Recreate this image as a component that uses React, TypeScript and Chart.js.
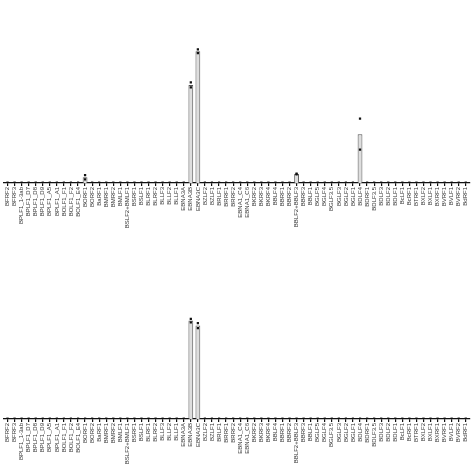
// App.tsx
import { useEffect, useRef } from 'react';
import Chart from 'chart.js/auto';

// Genes along the x axis (same order in both panels)
const genes = [
  'BFRF2', 'BFRF3', 'BPLF1_1-3ab', 'BPLF1_D7', 'BPLF1_D8', 'BPLF1_D9', 'BPLF1_A5', 'BPLF1_A1', 'BOLF1_F1', 'BOLF1_F2', 'BOLF1_E4',
  'BORF1', 'BORF2', 'BaRF1', 'BMRF1', 'BMRF2', 'BMLF1', 'BSLF2+BMLF1', 'BSRF1', 'BSLF1', 'BLRF1', 'BLRF2',
  'BLLF3', 'BLLF2', 'BLLF1', 'EBNA3A', 'EBNA3B', 'EBNA3C', 'BZLF2', 'BZLF1', 'BRLF1', 'BRRF1', 'BRRF2',
  'EBNA1_C4', 'EBNA1_C6', 'BKRF2', 'BKRF3', 'BKRF4', 'BBLF4', 'BBRF1', 'BBRF2', 'BBLF2+BBLF3', 'BBRF3', 'BBLF1',
  'BGLF5', 'BGLF4', 'BGLF3.5', 'BGLF3', 'BGLF2', 'BGLF1', 'BDLF4', 'BDRF1', 'BDLF3.5', 'BDLF3', 'BDLF2',
  'BDLF1', 'BcLF1', 'BcRF1', 'BTRF1', 'BXLF2', 'BXLF1', 'BXRF1', 'BVRF1', 'BVLF1', 'BVRF2', 'BdRF1',
];

// Top panel: mean and the two replicates
const topMean = [
  0, 0, 0, 0, 0, 0, 0, 0, 0, 0, 0,
  1.6, 0, 0, 0, 0, 0, 0, 0, 0, 0, 0,
  0, 0, 0, 0, 27.4, 36.8, 0, 0, 0, 0, 0,
  0, 0, 0, 0, 0, 0, 0, 0, 2.5, 0, 0,
  0, 0, 0, 0, 0, 0, 13.6, 0, 0, 0, 0,
  0, 0, 0, 0, 0, 0, 0, 0, 0, 0, 0,
];
const topRep1 = [
  0, 0, 0, 0, 0, 0, 0, 0, 0, 0, 0,
  2.2, 0, 0, 0, 0, 0, 0, 0, 0, 0, 0,
  0, 0, 0, 0, 28.1, 37.3, 0, 0, 0, 0, 0,
  0, 0, 0, 0, 0, 0, 0, 0, 2.6, 0, 0,
  0, 0, 0, 0, 0, 0, 18.0, 0, 0, 0, 0,
  0, 0, 0, 0, 0, 0, 0, 0, 0, 0, 0,
];
const topRep2 = [
  0, 0, 0, 0, 0, 0, 0, 0, 0, 0, 0,
  1.0, 0, 0, 0, 0, 0, 0, 0, 0, 0, 0,
  0, 0, 0, 0, 26.7, 36.3, 0, 0, 0, 0, 0,
  0, 0, 0, 0, 0, 0, 0, 0, 2.4, 0, 0,
  0, 0, 0, 0, 0, 0, 9.3, 0, 0, 0, 0,
  0, 0, 0, 0, 0, 0, 0, 0, 0, 0, 0,
];

// Bottom panel: mean and the two replicates
const bottomMean = [
  0, 0, 0, 0, 0, 0, 0, 0, 0, 0, 0,
  0, 0, 0, 0, 0, 0, 0, 0, 0, 0, 0,
  0, 0, 0, 0, 27.5, 26.1, 0, 0, 0, 0, 0,
  0, 0, 0, 0, 0, 0, 0, 0, 0, 0, 0,
  0, 0, 0, 0, 0, 0, 0, 0, 0, 0, 0,
  0, 0, 0, 0, 0, 0, 0, 0, 0, 0, 0,
];
const bottomRep1 = [
  0, 0, 0, 0, 0, 0, 0, 0, 0, 0, 0,
  0, 0, 0, 0, 0, 0, 0, 0, 0, 0, 0,
  0, 0, 0, 0, 28.0, 26.8, 0, 0, 0, 0, 0,
  0, 0, 0, 0, 0, 0, 0, 0, 0, 0, 0,
  0, 0, 0, 0, 0, 0, 0, 0, 0, 0, 0,
  0, 0, 0, 0, 0, 0, 0, 0, 0, 0, 0,
];
const bottomRep2 = [
  0, 0, 0, 0, 0, 0, 0, 0, 0, 0, 0,
  0, 0, 0, 0, 0, 0, 0, 0, 0, 0, 0,
  0, 0, 0, 0, 27.0, 25.4, 0, 0, 0, 0, 0,
  0, 0, 0, 0, 0, 0, 0, 0, 0, 0, 0,
  0, 0, 0, 0, 0, 0, 0, 0, 0, 0, 0,
  0, 0, 0, 0, 0, 0, 0, 0, 0, 0, 0,
];

const Y_MAX = 50;

const buildChart = (canvas: HTMLCanvasElement, mean: number[], rep1: number[], rep2: number[]) => {
  // replicate dots, drawn over the bars
  const pointSet = (data: number[]) => ({
    type: 'line' as const,
    data,
    showLine: false,
    pointRadius: 1.6,
    pointStyle: 'rect' as const,
    pointBackgroundColor: '#111',
    pointBorderWidth: 0,
    order: 0,
  });

  return new Chart(canvas, {
    type: 'bar',
    data: {
      labels: genes,
      datasets: [
        {
          type: 'bar',
          data: mean,
          backgroundColor: '#dedede',
          borderColor: '#555',
          borderWidth: 1,
          categoryPercentage: 1,
          barPercentage: 0.68,
          order: 1,
        },
        pointSet(rep1),
        pointSet(rep2),
      ] as any,
    },
    options: {
      animation: false,
      responsive: true,
      maintainAspectRatio: false,
      layout: { padding: 0 },
      plugins: {
        legend: { display: false },
        tooltip: { enabled: false },
      },
      scales: {
        x: {
          offset: true,
          afterFit: (scale: any) => {
            scale.height = 67;
          },
          border: { display: true, color: '#111', width: 1.2 },
          grid: {
            display: true,
            drawOnChartArea: false,
            drawTicks: true,
            tickLength: 3,
            lineWidth: 1.2,
            color: '#111',
            offset: false,
          },
          ticks: {
            autoSkip: false,
            minRotation: 90,
            maxRotation: 90,
            padding: 1,
            color: '#333',
            font: { family: '"Liberation Sans", Arial, sans-serif', size: 6 },
          },
        },
        y: {
          display: false,
          min: 0,
          max: Y_MAX,
        },
      },
    },
  });
};

export default function App() {
  const topRef = useRef<HTMLCanvasElement>(null);
  const bottomRef = useRef<HTMLCanvasElement>(null);

  useEffect(() => {
    document.body.style.margin = '0';
    if (!topRef.current || !bottomRef.current) return;
    const top = buildChart(topRef.current, topMean, topRep1, topRep2);
    const bottom = buildChart(bottomRef.current, bottomMean, bottomRep1, bottomRep2);
    return () => {
      top.destroy();
      bottom.destroy();
    };
  }, []);

  return (
    <div style={{ position: 'relative', width: 474, height: 474, overflow: 'hidden', background: '#fff' }}>
      <div style={{ position: 'absolute', left: 0, top: 0, width: 474, height: 250 }}>
        <canvas ref={topRef}></canvas>
      </div>
      <div style={{ position: 'absolute', left: 0, top: 236, width: 474, height: 250 }}>
        <canvas ref={bottomRef}></canvas>
      </div>
    </div>
  );
}
